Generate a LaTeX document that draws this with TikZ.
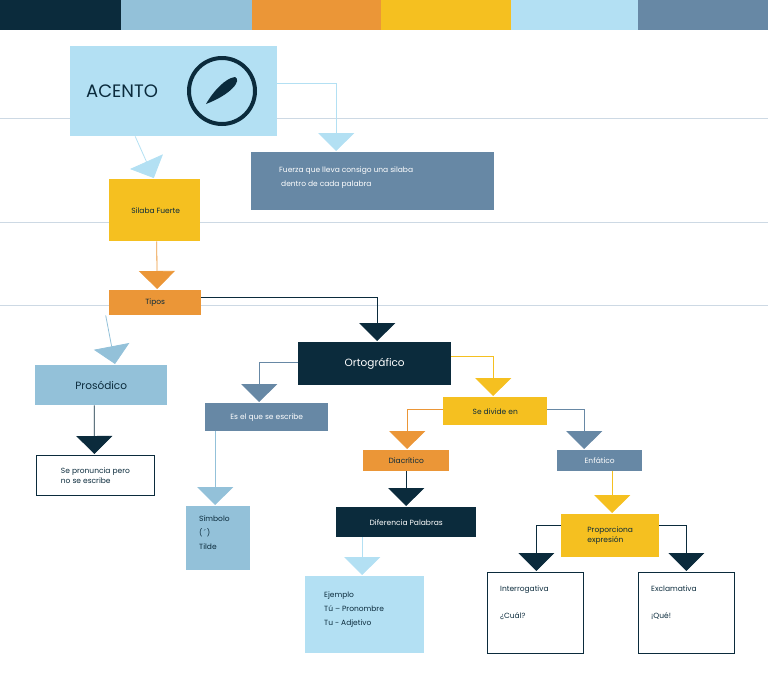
\documentclass[tikz,border=0pt]{standalone}
\usepackage{fontspec}
\setmainfont{Poppins}
\usetikzlibrary{arrows.meta}
\definecolor{cdark}{HTML}{0B2B3C}
\definecolor{clb}{HTML}{93C1D9}
\definecolor{cor}{HTML}{EB9637}
\definecolor{cye}{HTML}{F5C020}
\definecolor{cpa}{HTML}{B3E0F3}
\definecolor{csl}{HTML}{6788A5}
\definecolor{cgl}{HTML}{CDD9E4}
\begin{document}
\begin{tikzpicture}[x=1pt,y=-1pt,
 box/.style={anchor=north west,inner sep=0pt,font=\fontsize{7.5}{10}\selectfont,align=left},
 bx/.style n args={3}{box,minimum width=#1,minimum height=#2,fill=#3},
 con/.style={draw=#1,line width=0.8pt,-{Triangle[width=36pt,length=18pt,color=#1]},shorten >=1pt},
 txt/.style={anchor=north west,inner sep=0pt,align=left,font=\fontsize{7.5}{14}\selectfont}]
\useasboundingbox (0,0) rectangle (768,681);
% top bars
\fill[cdark] (0,0) rectangle (121,30);
\fill[clb] (121,0) rectangle (252,30);
\fill[cor] (252,0) rectangle (381,30);
\fill[cye] (381,0) rectangle (511,30);
\fill[cpa] (511,0) rectangle (638,30);
\fill[csl] (638,0) rectangle (768,30);
% grey lines
\foreach \yy in {118,222,305} \draw[cgl,line width=1pt] (0,\yy) -- (768,\yy);
% nodes
\node[bx={207pt}{90pt}{cpa}] (acento) at (70,46) {};
\node[anchor=west,inner sep=0pt,font=\fontsize{18}{20}\selectfont,text=cdark] (acentotxt) at (86,91) {ACENTO};
\draw[cdark,line width=4pt] (222,91) circle (33);
\fill[cdark] (206,104) .. controls (214,90) and (226,78) .. (235,77) .. controls (242,80) and (232,94) .. cycle;
\node[bx={243pt}{58pt}{csl}] (fuerza) at (251,152) {};
\node[txt,text=white] (fuerzatxt) at (279,167) {Fuerza que lleva consigo una silaba\\\ dentro de cada palabra};
\node[bx={91pt}{62pt}{cye},text=cdark] (silaba) at (109,179) {\ Silaba Fuerte};
\node[bx={92pt}{25pt}{cor},text=cdark] (tipos) at (109,290) {Tipos};
\node[bx={153pt}{43pt}{cdark},text=white,font=\fontsize{10.5}{12}\selectfont] (orto) at (298,342) {Ortográfico};
\node[bx={132pt}{40pt}{clb},text=cdark,font=\fontsize{10.5}{12}\selectfont] (proso) at (35,365) {Prosódico};
\node[bx={118pt}{40pt}{white},draw=cdark,line width=0.8pt,text=cdark] (pronuncia) at (36,455) {Se pronuncia pero\\no se escribe};
\node[bx={123pt}{28pt}{csl},text=white] (esel) at (205,403) {Es el que se escribe};
\node[bx={64pt}{64pt}{clb}] (simbolo) at (186,506) {};
\node[txt,text=cdark] (simbolotxt) at (199,515) {Símbolo\\(\,´\,)\\Tilde};
\node[bx={104pt}{28pt}{cye},text=cdark] (divide) at (443,397) {Se divide en};
\node[bx={86pt}{21pt}{cor},text=cdark] (diacritico) at (363,450) {Diacrítico};
\node[bx={85pt}{21pt}{csl},text=white] (enfatico) at (557,450) {Enfático};
\node[bx={140pt}{30pt}{cdark},text=white] (diferencia) at (336,507) {Diferencia Palabras};
\node[bx={119pt}{77pt}{cpa}] (ejemplo) at (305,576) {};
\node[txt,text=cdark] (ejemplotxt) at (324,592) {Ejemplo\\Tú – Pronombre\\Tu - Adjetivo};
\node[bx={98pt}{43pt}{cye},text=cdark] (proporciona) at (561,514) {Proporciona\\expresión};
\node[bx={96pt}{81pt}{white},draw=cdark,line width=0.8pt] (interr) at (487,572) {};
\node[txt,text=cdark,font=\fontsize{7.5}{27}\selectfont] (interrtxt) at (500,586) {Interrogativa\\¿Cuál?};
\node[bx={96pt}{81pt}{white},draw=cdark,line width=0.8pt] (exclam) at (638,572) {};
\node[txt,text=cdark,font=\fontsize{7.5}{27}\selectfont] (exclamtxt) at (651,586) {Exclamativa\\¡Qué!};
% connectors
\draw[con=cpa] ([yshift=8pt]acento.east) -| ([xshift=-36.5pt]fuerza.north);
\draw[con=cpa] ([xshift=-38.5pt]acento.south) -- ([xshift=-0.5pt]silaba.north);
\draw[con=cor] ([xshift=2pt]silaba.south) -- ([xshift=2pt]tipos.north);
\draw[con=cdark] ([yshift=5pt]tipos.east) -| ([xshift=2.5pt]orto.north);
\draw[con=clb] ([xshift=-49.5pt]tipos.south) -- ([xshift=14pt]proso.north);
\draw[con=cdark] ([xshift=-7pt]proso.south) -- ([xshift=-1pt]pronuncia.north);
\draw[con=csl] ([yshift=1.5pt]orto.west) -| ([xshift=-7.5pt]esel.north);
\draw[con=clb] ([xshift=-51.5pt]esel.south) -- ([xshift=-3pt]simbolo.north);
\draw[con=cye] ([yshift=7.5pt]orto.east) -| ([xshift=-2pt]divide.north);
\draw[con=cor] ([yshift=2pt]divide.west) -| ([xshift=1pt]diacritico.north);
\draw[con=csl] ([yshift=2pt]divide.east) -| ([xshift=-15.5pt]enfatico.north);
\draw[con=cdark] ([xshift=0pt]diacritico.south) -- ([xshift=0pt]diferencia.north);
\draw[con=cpa] ([xshift=-44pt]diferencia.south) -- ([xshift=-2.5pt]ejemplo.north);
\draw[con=cye] ([xshift=12.5pt]enfatico.south) -- ([xshift=2pt]proporciona.north);
\draw[con=cdark] ([yshift=10.5pt]proporciona.west) -| ([xshift=1pt]interr.north);
\draw[con=cdark] ([yshift=10.5pt]proporciona.east) -| ([xshift=0pt]exclam.north);
\end{tikzpicture}
\end{document}
